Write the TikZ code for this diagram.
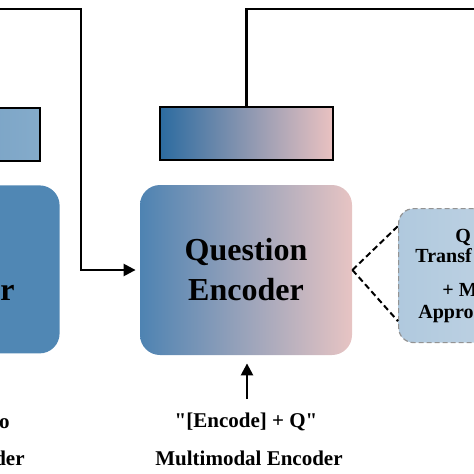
\documentclass[tikz,border=0pt]{standalone}
\usepackage{fontspec}
\setmainfont{Liberation Serif}
\usepackage{tikz}
\usetikzlibrary{positioning}
\usetikzlibrary{arrows.meta}
\definecolor{encleft}{RGB}{78,131,178}
\definecolor{encright}{RGB}{231,196,195}
\definecolor{embleft}{RGB}{44,107,160}
\definecolor{embright}{RGB}{234,194,193}
\definecolor{vidblue}{RGB}{80,135,180}
\definecolor{detleft}{RGB}{176,201,222}
\definecolor{detright}{RGB}{200,216,230}
\tikzset{edge/.style = {-{Triangle[length=12pt,width=12pt]}}}

\begin{document}
\begin{tikzpicture}[x=1pt,y=-1pt,thick,
    wire/.style={line width=2.4pt},
    dashline/.style={dashed,dash pattern=on 6pt off 3.5pt,line width=2pt},
    enc node/.style={rounded corners=20pt,minimum width=212pt,minimum height=170pt,inner sep=0pt,align=center,font=\bfseries\fontsize{32}{40}\selectfont},
    emb node/.style={draw=black,line width=1.6pt,minimum height=53pt,inner sep=0pt},
    det node/.style={draw=gray!85,dashed,dash pattern=on 5pt off 3pt,line width=1.2pt,rounded corners=15pt,minimum width=170pt,minimum height=134pt,left color=detleft,right color=detright},
    label node/.style={inner sep=0pt,font=\bfseries\fontsize{21}{25}\selectfont},
    title node/.style={inner sep=0pt,font=\bfseries\fontsize{32}{40}\selectfont}]
    \useasboundingbox (0,0) rectangle (474,474);
    \clip (0,0) rectangle (474,474);

    % encoders
    \node[enc node,fill=vidblue,minimum width=170pt,minimum height=168pt,anchor=north east] (venc) at (60,185) {};
    \node[title node,anchor=base east] (vencr) at (15,300) {r};
    \node[enc node,left color=encleft,right color=encright] (qenc) at (246,270) {Question\\Encoder};

    % embeddings
    \node[emb node,left color=vidblue!85!white,right color=vidblue!70!white,minimum width=160pt,anchor=north east] (vemb) at (41,107) {};
    \node[emb node,left color=embleft,right color=embright,minimum width=173pt] (qemb) at (246.5,133.5) {};

    % detail box
    \node[det node,anchor=north west] (detail) at (398,208) {};
    \node[label node,font=\bfseries\fontsize{20}{24}\selectfont,anchor=base west] (det1) at (455,242) {Q};
    \node[label node,font=\bfseries\fontsize{20}{24}\selectfont,anchor=base west] (det2) at (415,262) {Transf};
    \node[label node,font=\bfseries\fontsize{20}{24}\selectfont,anchor=base west] (det3) at (442,296) {+ M};
    \node[label node,font=\bfseries\fontsize{20}{24}\selectfont,anchor=base west] (det4) at (418,318) {Appro};

    % labels below
    \node[label node,anchor=base east] (vin) at (10,428) {o};
    \node[label node,anchor=base east] (vname) at (25,465) {der};
    \node[label node,anchor=base] (qin) at (246,427) {\textquotedbl[Encode] + Q\textquotedbl};
    \node[label node,anchor=base] (qname) at (249,465) {Multimodal Encoder};

    % connectors
    \coordinate (vtop) at (0,9);
    \coordinate (vbend) at (81,9);
    \coordinate (qtop) at (474,9);
    \coordinate (qarrow) at (247,399);
    \draw[wire,edge] (vtop) -- (vbend) |- ([xshift=-4pt]qenc.west);
    \draw[wire] (qemb.north) |- (qtop);
    \draw[wire,edge,shorten >=8pt] (qarrow) -- (qarrow |- qenc.south);
    \draw[dashline] (qenc.east) -- ([yshift=-18pt]detail.north west);
    \draw[dashline] (qenc.east) -- ([yshift=22pt]detail.south west);
\end{tikzpicture}
\end{document}
